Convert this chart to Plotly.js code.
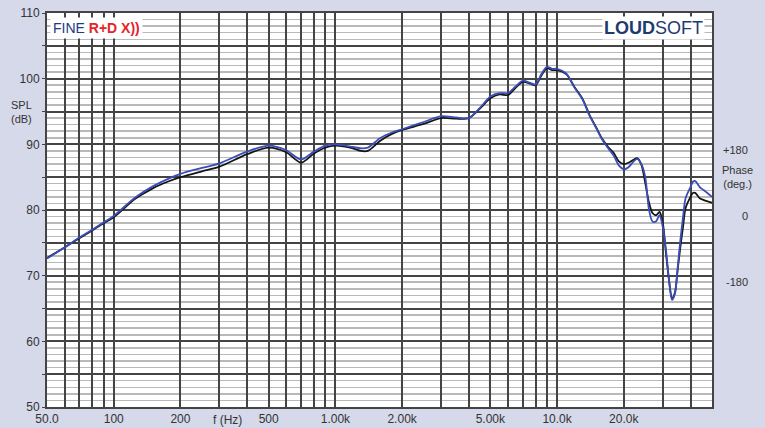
<!DOCTYPE html>
<html>
<head>
<meta charset="utf-8">
<script src="https://cdn.plot.ly/plotly-3.0.1.min.js"></script>
<style>
html,body{margin:0;padding:0;background:#d5d9ea;}
#chart{width:765px;height:428px;}
</style>
</head>
<body>
<div id="chart"></div>
<script>
// Frequencies (Hz)
var freq = [50, 60, 70, 80, 90, 100, 125, 150, 175, 200, 250, 300, 400, 500, 600, 700, 800, 900, 1000, 1200, 1300, 1400, 1600, 1800, 2000, 2500, 3000, 3500, 4000, 4500, 5000, 5500, 6000, 6500, 7000, 7500, 8000, 8500, 9000, 9500, 10000, 11000, 12000, 13000, 14000, 15000, 16000, 17000, 18000, 19000, 20000, 21000, 22000, 23000, 24000, 25000, 26000, 27000, 28000, 29000, 30000, 31000, 32000, 33000, 34000, 35000, 36000, 37000, 38000, 40000, 41000, 42000, 44000, 46000, 50000];
// SPL (dB) black curve
var splBlack = [72.7, 74.3, 75.7, 76.9, 78.0, 78.9, 81.7, 83.3, 84.3, 85.0, 85.9, 86.6, 88.5, 89.5, 88.8, 87.2, 88.6, 89.5, 89.8, 89.4, 89.0, 89.0, 90.6, 91.6, 92.2, 93.1, 94.0, 93.9, 94.0, 95.5, 97.0, 97.6, 97.5, 98.6, 99.5, 99.3, 99.0, 100.5, 101.6, 101.3, 101.3, 100.7, 98.7, 97.0, 94.5, 92.6, 90.8, 89.6, 88.7, 87.4, 87.0, 87.2, 87.6, 87.9, 86.9, 84.1, 81.1, 79.5, 79.2, 79.7, 78.0, 73.4, 69.3, 66.6, 67.4, 70.9, 74.4, 77.4, 80.3, 82.0, 82.6, 82.6, 81.8, 81.5, 81.1];
// SPL (dB) blue curve
var splBlue = [72.6, 74.3, 75.8, 77.0, 78.1, 79.1, 81.9, 83.6, 84.7, 85.5, 86.4, 87.1, 88.9, 89.8, 89.1, 87.7, 88.9, 89.8, 90.0, 89.6, 89.4, 89.5, 91.0, 91.8, 92.3, 93.4, 94.3, 94.1, 94.0, 95.6, 97.3, 97.8, 97.8, 98.8, 99.7, 99.4, 99.1, 100.7, 101.8, 101.5, 101.5, 100.8, 98.6, 96.9, 94.4, 92.5, 90.7, 89.4, 88.3, 86.8, 86.2, 86.5, 87.3, 87.8, 87.0, 85.0, 80.0, 78.2, 78.3, 79.2, 77.4, 73.9, 69.3, 66.3, 67.2, 71.2, 75.4, 78.9, 81.8, 83.5, 84.3, 84.4, 83.5, 83.0, 82.0];

// X grid / tick labels
var xGrid = [50, 60, 70, 80, 90, 100, 200, 300, 400, 500, 600, 700, 800, 900, 1000, 2000, 3000, 4000, 5000, 6000, 7000, 8000, 9000, 10000, 20000, 30000, 40000, 50000];
var xLabelMap = {50: '50.0', 100: '100', 200: '200', 500: '500', 1000: '1.00k', 2000: '2.00k', 5000: '5.00k', 10000: '10.0k', 20000: '20.0k'};
// Y grid / tick labels
var yMajor = [50, 55, 60, 65, 70, 75, 80, 85, 90, 95, 100, 105, 110];
var yLabelMap = {50: '50', 60: '60', 70: '70', 80: '80', 90: '90', 100: '100', 110: '110'};
// Phase axis labels (deg) and their SPL-equivalent positions
var phaseLabels = ['+180', '0', '-180'];
var phaseAtSpl = [89.1, 79.1, 69.0];

var xText = xGrid.map(function (f) { return xLabelMap[f] || ''; });
var yText = yMajor.map(function (v) { return yLabelMap[v] || ''; });

var traces = [
  {x: freq, y: splBlack, type: 'scatter', mode: 'lines',
   line: {color: '#151515', width: 1.8, shape: 'spline', smoothing: 0.8}, hoverinfo: 'skip'},
  {x: freq, y: splBlue, type: 'scatter', mode: 'lines',
   line: {color: '#3a4db8', width: 1.8, shape: 'spline', smoothing: 0.8}, hoverinfo: 'skip'}
];

var font = {family: 'Liberation Sans, Arial, sans-serif', size: 12, color: '#333'};

var annotations = [
  {xref: 'paper', yref: 'y', x: -0.038, y: 95.0, xanchor: 'center', yanchor: 'middle',
   text: 'SPL<br>(dB)', showarrow: false, font: {family: font.family, size: 11, color: '#333'}, align: 'center'},
  {xref: 'x', yref: 'paper', x: Math.log10(325), y: 0, yshift: -13, xanchor: 'center', yanchor: 'middle',
   text: 'f (Hz)', showarrow: false, font: font},
  {xref: 'paper', yref: 'y', x: 1.039, y: 85.1, xanchor: 'center', yanchor: 'middle',
   text: 'Phase<br>(deg.)', showarrow: false, font: {family: font.family, size: 11, color: '#333'}, align: 'center'},
  {xref: 'paper', yref: 'paper', x: 0.005, y: 0.962, xanchor: 'left', yanchor: 'middle',
   text: '<span style="color:#203c86">FINE</span> <b><span style="color:#e52429">R+D X))</span></b>',
   showarrow: false, bgcolor: '#ffffff', borderpad: 2,
   font: {family: 'Liberation Sans, Arial, sans-serif', size: 14, color: '#203c86'}},
  {xref: 'paper', yref: 'paper', x: 0.99, y: 0.962, xanchor: 'right', yanchor: 'middle',
   text: '<b>LOUD</b>SOFT', showarrow: false, bgcolor: '#ffffff', borderpad: 1,
   font: {family: 'Liberation Sans, Arial, sans-serif', size: 18, color: '#1e3a6e'}}
];
for (var i = 0; i < phaseLabels.length; i++) {
  annotations.push({xref: 'paper', yref: 'y', x: 1.057, y: phaseAtSpl[i], xanchor: 'right', yanchor: 'middle',
    text: phaseLabels[i], showarrow: false, font: {family: font.family, size: 11, color: '#333'}});
}

var layout = {
  width: 765, height: 428,
  margin: {l: 47, r: 53, t: 13, b: 21},
  paper_bgcolor: '#d5d9ea',
  plot_bgcolor: '#ffffff',
  showlegend: false,
  font: font,
  xaxis: {
    type: 'log',
    range: [Math.log10(50), Math.log10(50000)],
    tickmode: 'array', tickvals: xGrid, ticktext: xText,
    showgrid: true, gridcolor: '#444', gridwidth: 2,
    ticks: '', tickfont: font,
    showline: true, linecolor: '#444', linewidth: 2, mirror: true,
    zeroline: false, fixedrange: true
  },
  yaxis: {
    range: [50, 110],
    tickmode: 'array', tickvals: yMajor, ticktext: yText,
    showgrid: true, gridcolor: '#444', gridwidth: 2,
    minor: {dtick: 1, showgrid: true, gridcolor: '#b9b9b9', gridwidth: 1.5, ticks: ''},
    ticks: 'outside', ticklen: 3, tickcolor: '#444', tickwidth: 1,
    tickfont: font, ticklabelstandoff: 0,
    showline: true, linecolor: '#444', linewidth: 2, mirror: true,
    zeroline: false, fixedrange: true
  },
  annotations: annotations
};

Plotly.newPlot('chart', traces, layout, {staticPlot: true, displayModeBar: false});
</script>
</body>
</html>
